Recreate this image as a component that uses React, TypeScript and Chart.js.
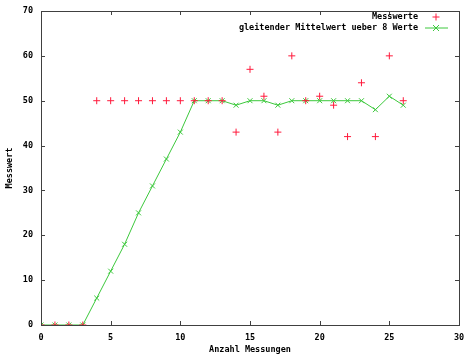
import React, { useEffect, useRef } from "react";
import { Chart, registerables } from "chart.js";

Chart.register(...registerables);

const xValues = [0, 1, 2, 3, 4, 5, 6, 7, 8, 9, 10, 11, 12, 13, 14, 15, 16, 17, 18, 19, 20, 21, 22, 23, 24, 25, 26];
const messwerte = [0, 0, 0, 0, 50, 50, 50, 50, 50, 50, 50, 50, 50, 50, 43, 57, 51, 43, 60, 50, 51, 49, 42, 54, 42, 60, 50];
const mittelwert = [0, 0, 0, 0, 6, 12, 18, 25, 31, 37, 43, 50, 50, 50, 49, 50, 50, 49, 50, 50, 50, 50, 50, 50, 48, 51, 49];
const xTitle = "Anzahl Messungen";
const yTitle = "Messwert";
const seriesNames = ["Messwerte", "gleitender Mittelwert ueber 8 Werte"];

const RED = "#ff1a3c";
const GREEN = "#3cc83c";
const FONT_FAMILY = "'DejaVu Sans Mono', 'Liberation Mono', monospace";

export default function App() {
  const ref = useRef<HTMLCanvasElement | null>(null);

  useEffect(() => {
    document.body.style.margin = "0";
    const canvas = ref.current;
    if (!canvas) return;

    const frame = {
      id: "gnuFrame",
      afterDatasetsDraw(chart: any) {
        const { ctx, chartArea } = chart;
        const { left, right, top, bottom } = chartArea;
        ctx.save();
        ctx.strokeStyle = "#404040";
        ctx.lineWidth = 1;
        ctx.strokeRect(Math.round(left) + 0.5, Math.round(top) + 0.5, Math.round(right - left), Math.round(bottom - top));
        const tl = 4;
        const xs = chart.scales.x;
        xs.ticks.forEach((t: any) => {
          const p = Math.round(xs.getPixelForValue(t.value)) + 0.5;
          ctx.beginPath();
          ctx.moveTo(p, bottom);
          ctx.lineTo(p, bottom - tl);
          ctx.moveTo(p, top);
          ctx.lineTo(p, top + tl);
          ctx.stroke();
        });
        const ys = chart.scales.y;
        ys.ticks.forEach((t: any) => {
          const p = Math.round(ys.getPixelForValue(t.value)) + 0.5;
          ctx.beginPath();
          ctx.moveTo(left, p);
          ctx.lineTo(left + tl, p);
          ctx.moveTo(right, p);
          ctx.lineTo(right - tl, p);
          ctx.stroke();
        });

        // legend
        ctx.font = "bold 8.5px " + FONT_FAMILY;
        ctx.fillStyle = "#000";
        ctx.textAlign = "right";
        ctx.textBaseline = "middle";
        const tx = right - 41;
        const y1 = top + 6;
        const y2 = top + 17;
        ctx.fillText(seriesNames[0], tx, y1);
        ctx.fillText(seriesNames[1], tx, y2);
        const mx = right - 23;
        ctx.strokeStyle = RED;
        ctx.beginPath();
        ctx.moveTo(mx - 3.5, y1);
        ctx.lineTo(mx + 3.5, y1);
        ctx.moveTo(mx, y1 - 3.5);
        ctx.lineTo(mx, y1 + 3.5);
        ctx.stroke();
        ctx.strokeStyle = GREEN;
        ctx.beginPath();
        ctx.moveTo(right - 34, y2);
        ctx.lineTo(right - 11, y2);
        ctx.moveTo(mx - 3, y2 - 3);
        ctx.lineTo(mx + 3, y2 + 3);
        ctx.moveTo(mx - 3, y2 + 3);
        ctx.lineTo(mx + 3, y2 - 3);
        ctx.stroke();
        ctx.restore();
      },
    };

    const tickFont = { family: FONT_FAMILY, size: 8.5, weight: "bold" as const };

    const chart = new Chart(canvas, {
      type: "scatter",
      data: {
        datasets: [
          {
            label: seriesNames[0],
            data: xValues.map((x, i) => ({ x, y: messwerte[i] })),
            pointStyle: "cross",
            pointRadius: 3.5,
            borderColor: RED,
            backgroundColor: RED,
            borderWidth: 1,
            showLine: false,
          },
          {
            label: seriesNames[1],
            data: xValues.map((x, i) => ({ x, y: mittelwert[i] })),
            pointStyle: "crossRot",
            pointRadius: 3.5,
            borderColor: GREEN,
            backgroundColor: GREEN,
            borderWidth: 1,
            showLine: true,
          },
        ],
      },
      options: {
        animation: false,
        responsive: false,
        layout: { padding: { top: 11, right: 15, left: 0, bottom: 0 } },
        plugins: { legend: { display: false }, tooltip: { enabled: false } },
        scales: {
          x: {
            type: "linear",
            min: 0,
            max: 30,
            ticks: { stepSize: 5, color: "#000", font: tickFont, padding: 0, maxRotation: 0 },
            grid: { display: false },
            border: { display: false },
            title: { display: true, text: xTitle, color: "#000", font: tickFont, padding: { top: 0, bottom: 0 } },
            afterFit: (s: any) => {
              s.height = 30;
            },
          },
          y: {
            type: "linear",
            min: 0,
            max: 70,
            ticks: { stepSize: 10, color: "#000", font: tickFont, padding: 0 },
            grid: { display: false },
            border: { display: false },
            title: { display: true, text: yTitle, color: "#000", font: tickFont, padding: { top: 5, bottom: 0 } },
            afterFit: (s: any) => {
              s.width = 41;
            },
          },
        },
      },
      plugins: [frame],
    });

    return () => chart.destroy();
  }, []);

  return <canvas ref={ref} width={474} height={355} style={{ display: "block" }} />;
}
